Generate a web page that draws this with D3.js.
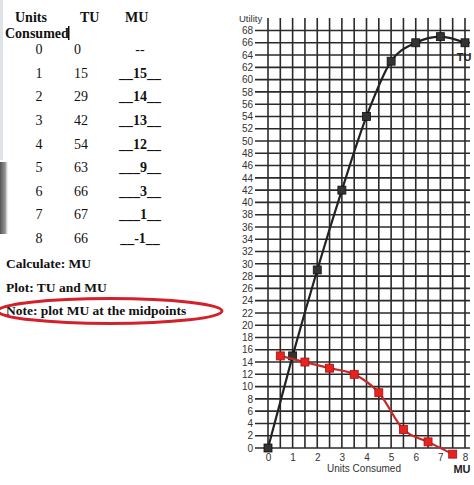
<!DOCTYPE html>
<html><head><meta charset="utf-8">
<script src="https://cdn.jsdelivr.net/npm/d3@7"></script>
<style>html,body{margin:0;padding:0;background:#fff;}svg{display:block;}</style>
</head><body>
<svg id="c" width="474" height="485"></svg>
<script>
// ---- data ----
const units = [0, 1, 2, 3, 4, 5, 6, 7, 8];
const tu = [0, 15, 29, 42, 54, 63, 66, 67, 66];
const muLabels = ["--", "__15__", "__14__", "__13__", "__12__", "___9__", "___3__", "___1__", "__-1__"];
const muMid = [0.5, 1.5, 2.5, 3.5, 4.5, 5.5, 6.5, 7.5];
const muVals = [15, 14, 13, 12, 9, 3, 1, -1];
const yTicks = d3.range(0, 70, 2);
const xTicks = [0, 1, 2, 3, 4, 5, 6, 7, 8];
const notes = ["Calculate: MU", "Plot: TU and MU", "Note: plot MU at the midpoints"];

const svg = d3.select("#c");

// left edge artifacts
const defs = svg.append("defs");
const g1 = defs.append("linearGradient").attr("id", "sh").attr("x1", 0).attr("x2", 1);
g1.append("stop").attr("offset", 0).attr("stop-color", "#555");
g1.append("stop").attr("offset", 0.6).attr("stop-color", "#999");
g1.append("stop").attr("offset", 1).attr("stop-color", "#fff").attr("stop-opacity", 0);
svg.append("rect").attr("x", 0).attr("y", 0).attr("width", 3).attr("height", 160).attr("fill", "#dfe3e8");
svg.append("rect").attr("x", 0).attr("y", 162).attr("width", 9).attr("height", 72).attr("fill", "url(#sh)");

// ---- table ----
const serif = "'Liberation Serif','Times New Roman',serif";
const T = svg.append("g").attr("font-family", serif).attr("fill", "#111");
T.append("text").attr("x", 15).attr("y", 22).attr("font-weight", "bold").attr("font-size", 14).text("Units");
T.append("text").attr("x", 5).attr("y", 38).attr("font-weight", "bold").attr("font-size", 14).text("Consumed");
T.append("rect").attr("x", 68).attr("y", 26).attr("width", 1.5).attr("height", 14).attr("fill", "#111");
T.append("text").attr("x", 80).attr("y", 22).attr("font-weight", "bold").attr("font-size", 14).text("TU");
T.append("text").attr("x", 125).attr("y", 22).attr("font-weight", "bold").attr("font-size", 14).text("MU");

const rowY = d3.scaleLinear().domain([0, 8]).range([54, 243]);
units.forEach((u, i) => {
  T.append("text").attr("x", 39).attr("y", rowY(i)).attr("text-anchor", "middle").attr("font-size", 14).text(u);
  T.append("text").attr("x", 74).attr("y", rowY(i)).attr("font-size", 14).text(tu[i]);
  T.append("text").attr("x", 140).attr("y", rowY(i)).attr("text-anchor", "middle")
    .attr("font-size", 14).attr("font-weight", i === 0 ? "normal" : "bold").text(muLabels[i]);
});
notes.forEach((n, i) => {
  T.append("text").attr("x", 6).attr("y", 268 + i * 23.5).attr("font-weight", "bold").attr("font-size", 13.5).text(n);
});
svg.append("ellipse").attr("cx", 110).attr("cy", 311).attr("rx", 112).attr("ry", 12.5)
  .attr("fill", "none").attr("stroke", "#d4202a").attr("stroke-width", 3);

// ---- chart ----
const x = d3.scaleLinear().domain([0, 8]).range([268, 465]);
const y = d3.scaleLinear().domain([0, 68]).range([448, 30.5]);
const sans = "'Liberation Sans',Arial,sans-serif";
const C = svg.append("g");

// grid
const gridColor = "#2a2a2a";
C.selectAll("line.v").data(d3.range(0, 8.01, 0.5)).join("line").attr("class", "v")
  .attr("x1", d => x(d)).attr("x2", d => x(d)).attr("y1", 18).attr("y2", 448)
  .attr("stroke", gridColor).attr("stroke-width", 1.6);
C.selectAll("line.h").data(yTicks).join("line").attr("class", "h")
  .attr("x1", 255).attr("x2", 470).attr("y1", d => y(d)).attr("y2", d => y(d))
  .attr("stroke", gridColor).attr("stroke-width", 1.6);

// axes labels via d3 axes (no domain lines, no ticks)
const yAxis = C.append("g").attr("transform", "translate(253,0)")
  .call(d3.axisLeft(y).tickValues(yTicks).tickSize(0).tickPadding(0));
yAxis.select(".domain").remove();
yAxis.selectAll("text").attr("font-family", sans).attr("font-size", 10).attr("fill", "#333");

const xAxis = C.append("g").attr("transform", "translate(0,451)")
  .call(d3.axisBottom(x).tickValues(xTicks).tickSize(0).tickPadding(2.5));
xAxis.select(".domain").remove();
xAxis.selectAll("text").attr("font-family", sans).attr("font-size", 10).attr("fill", "#333");

C.append("text").attr("x", 239).attr("y", 22).attr("font-family", sans).attr("font-size", 9.5).attr("fill", "#333").text("Utility");
C.append("text").attr("x", 364).attr("y", 472).attr("text-anchor", "middle").attr("font-family", sans).attr("font-size", 10).attr("fill", "#333").text("Units Consumed");

// TU line
const tuData = units.map((u, i) => [u, tu[i]]);
C.append("path").datum(tuData)
  .attr("d", d3.line().x(d => x(d[0])).y(d => y(d[1])).curve(d3.curveMonotoneX))
  .attr("fill", "none").attr("stroke", "#222").attr("stroke-width", 2.2);
C.selectAll("rect.tu").data(tuData).join("rect").attr("class", "tu")
  .attr("x", d => x(d[0]) - 4).attr("y", d => y(d[1]) - 4).attr("width", 8).attr("height", 8)
  .attr("fill", "#333").attr("stroke", "#111").attr("stroke-width", 0.8);

// MU line
const muData = muMid.map((m, i) => [m, muVals[i]]);
C.append("path").datum(muData)
  .attr("d", d3.line().x(d => x(d[0])).y(d => y(d[1])).curve(d3.curveMonotoneX))
  .attr("fill", "none").attr("stroke", "#c62828").attr("stroke-width", 2.2);
C.selectAll("rect.mu").data(muData).join("rect").attr("class", "mu")
  .attr("x", d => x(d[0]) - 4).attr("y", d => y(d[1]) - 4).attr("width", 8).attr("height", 8)
  .attr("fill", "#e8231f").attr("stroke", "#a01515").attr("stroke-width", 0.8);

// series labels
C.append("text").attr("x", 464).attr("y", 61).attr("text-anchor", "middle").attr("font-family", sans)
  .attr("font-weight", "bold").attr("font-size", 11).attr("fill", "#222").text("TU");
C.append("text").attr("x", 462).attr("y", 473).attr("text-anchor", "middle").attr("font-family", sans)
  .attr("font-weight", "bold").attr("font-size", 11).attr("fill", "#222").text("MU");
</script>
</body></html>
